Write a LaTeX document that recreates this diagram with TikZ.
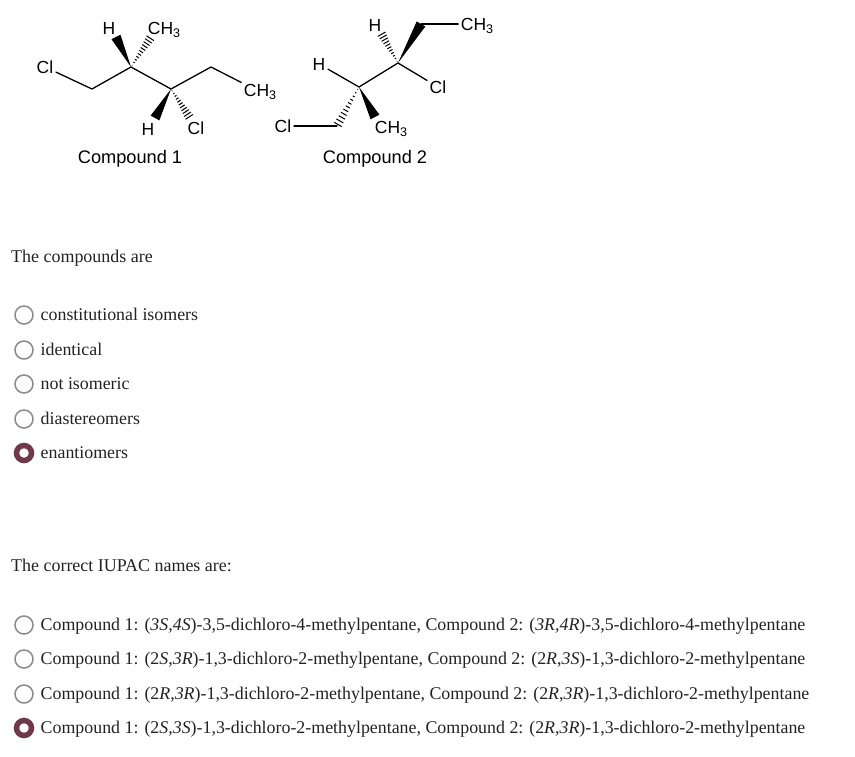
\documentclass[tikz,border=0pt]{standalone}
\usepackage{fontspec}
\setmainfont{Liberation Serif}
\setsansfont{Liberation Sans}
\usetikzlibrary{calc}
\definecolor{radiomark}{HTML}{6E3A4B}
\definecolor{radioring}{HTML}{8A8A8A}
\definecolor{inktext}{HTML}{222222}
\tikzset{
  atom/.style={inner sep=2.5pt,font=\sffamily\fontsize{17.5}{18}\selectfont,text=black},
  bond/.style={line width=1.3pt,line cap=round},
  caption/.style={inner sep=0pt,font=\sffamily\fontsize{18.2}{20}\selectfont,text=black},
  prompt/.style={anchor=base west,inner sep=0pt,font=\fontsize{17.95}{20}\selectfont,text=inktext},
  option/.style={anchor=base west,inner sep=0pt,font=\fontsize{17.88}{20}\selectfont,text=inktext},
  radio/.style={circle,draw=radioring,line width=1.5pt,fill=white,minimum size=18pt,inner sep=0pt},
  radioset/.style={circle,draw=radiomark,line width=5.5pt,fill=white,minimum size=15pt,inner sep=0pt}
}
\newcommand{\chthree}{CH\raisebox{-3.5pt}{\fontsize{12.5}{13}\selectfont 3}}
\newcommand{\wedgebond}[2]{\fill ($(#1)$) -- ($(#2)!5pt!90:(#1)$) -- ($(#2)!5pt!-90:(#1)$) -- cycle;}
\newcommand{\hashbond}[2]{%
  \foreach \t [evaluate=\t as \w using 4.6*\t] in {0.06,0.15,...,1.0}
    \draw[line width=1pt] ($(#1)!\t!(#2)!\w pt!90:(#2)$) -- ($(#1)!\t!(#2)!\w pt!-90:(#2)$);}
\begin{document}
\begin{tikzpicture}[x=1pt,y=-1pt]
  \useasboundingbox (0,0) rectangle (855,757);
  % compound 1
  \node[atom] (cla) at (45,67) {Cl};
  \coordinate (ca) at (92,89);
  \coordinate (cb) at (131,67);
  \coordinate (cc) at (171,89);
  \coordinate (cd) at (211,67);
  \node[atom] (mea) at (260,92) {\chthree};
  \node[atom] (ha) at (109,28) {H};
  \node[atom] (meb) at (164,30) {\chthree};
  \node[atom] (hb) at (148,129) {H};
  \node[atom] (clb) at (196,128) {Cl};
  \coordinate (wa) at (116,37);
  \coordinate (wb) at (151,37);
  \coordinate (wc) at (155,118);
  \coordinate (wd) at (190,118);
  \draw[bond] (cla) -- (ca) -- (cb) -- (cc) -- (cd) -- (mea);
  \wedgebond{cb}{wa}
  \hashbond{cb}{wb}
  \wedgebond{cc}{wc}
  \hashbond{cc}{wd}
  \node[caption] (namea) at (130,158.5) {Compound 1};
  % compound 2
  \node[atom] (clc) at (283,126) {Cl};
  \coordinate (ce) at (337,126);
  \coordinate (cf) at (359,87);
  \coordinate (cg) at (398,63);
  \coordinate (ch) at (421,24);
  \node[atom] (hc) at (319,64) {H};
  \node[atom] (hd) at (375,25) {H};
  \node[atom] (mec) at (477,26) {\chthree};
  \node[atom] (cld) at (438,87) {Cl};
  \node[atom] (med) at (391,129) {\chthree};
  \coordinate (we) at (375,117);
  \coordinate (wf) at (381,33);
  \draw[bond] (clc) -- (ce);
  \draw[bond] (hc) -- (cf) -- (cg) -- (cld);
  \draw[bond] (ch) -- (mec.west|-ch);
  \hashbond{cf}{ce}
  \wedgebond{cf}{we}
  \hashbond{cg}{wf}
  \wedgebond{cg}{ch}
  \node[caption] (nameb) at (375,158.5) {Compound 2};
  % first question
  \node[prompt] (qa) at (11,262) {The compounds are};
  \foreach \y/\lab/\txt in {314/oa/constitutional isomers,349/ob/identical,383/oc/not isomeric,418/od/diastereomers}{
    \node[radio] (r\lab) at (24,\y+1) {};
    \node[option] (\lab) at (40.5,\y+6) {\txt};
  }
  \node[radioset] (roe) at (24,453) {};
  \node[option] (oe) at (40.5,458) {enantiomers};
  % second question
  \node[prompt] (qb) at (11,571) {The correct IUPAC names are:};
  \node[radio] (rna) at (24,625) {};
  \node[option] (na) at (40.5,630) {Compound 1: (\textit{3S,4S})-3,5-dichloro-4-methylpentane, Compound 2: (\textit{3R,4R})-3,5-dichloro-4-methylpentane};
  \node[radio] (rnb) at (24,659) {};
  \node[option] (nb) at (40.5,664) {Compound 1: (2\textit{S},\textit{3R})-1,3-dichloro-2-methylpentane, Compound 2: (2\textit{R},\textit{3S})-1,3-dichloro-2-methylpentane};
  \node[radio] (rnc) at (24,694) {};
  \node[option] (nc) at (40.5,699) {Compound 1: (2\textit{R},\textit{3R})-1,3-dichloro-2-methylpentane, Compound 2: (2\textit{R},\textit{3R})-1,3-dichloro-2-methylpentane};
  \node[radioset] (rnd) at (24,728) {};
  \node[option] (nd) at (40.5,733) {Compound 1: (2\textit{S},\textit{3S})-1,3-dichloro-2-methylpentane, Compound 2: (2\textit{R},\textit{3R})-1,3-dichloro-2-methylpentane};
\end{tikzpicture}
\end{document}
